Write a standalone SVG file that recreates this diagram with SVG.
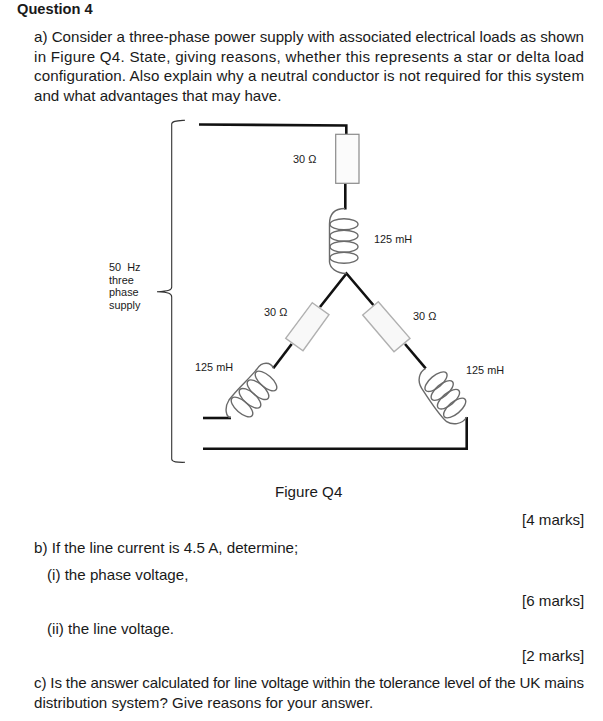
<svg xmlns="http://www.w3.org/2000/svg" width="603" height="721" viewBox="0 0 603 721">
<style>
text{font-family:"Liberation Sans",Arial,sans-serif;fill:#1a1a1a}
.b{font-size:15.15px}
.h{font-size:14.67px;font-weight:bold}
.l{font-size:10.9px}
.w{fill:none;stroke:#111;stroke-width:2.6}
.r{fill:#fbfbfb;stroke:#8a8a8a;stroke-width:1.2}
.q{fill:#f8f8f8;stroke:#b0b0b0;stroke-width:1.4}
.c{fill:none;stroke:#6a6a6a;stroke-width:1.4}
.br{fill:none;stroke:#333;stroke-width:1.1}
</style>
<rect width="603" height="721" fill="#fff"/>
<g id="text">
<text class="h" x="17" y="14">Question 4</text>
<text class="b" x="34" y="42" textLength="550" lengthAdjust="spacing">a) Consider a three-phase power supply with associated electrical loads as shown</text>
<text class="b" x="34" y="62" textLength="550" lengthAdjust="spacing">in Figure Q4. State, giving reasons, whether this represents a star or delta load</text>
<text class="b" x="34" y="81" textLength="550" lengthAdjust="spacing">configuration. Also explain why a neutral conductor is not required for this system</text>
<text class="b" x="34" y="101">and what advantages that may have.</text>
<text class="b" x="275" y="497">Figure Q4</text>
<text class="b" x="522" y="525">[4 marks]</text>
<text class="b" x="34" y="553">b) If the line current is 4.5 A, determine;</text>
<text class="b" x="47" y="580">(i) the phase voltage,</text>
<text class="b" x="522" y="606">[6 marks]</text>
<text class="b" x="47" y="634">(ii) the line voltage.</text>
<text class="b" x="522" y="661">[2 marks]</text>
<text class="b" x="34" y="688" textLength="550" lengthAdjust="spacing">c) Is the answer calculated for line voltage within the tolerance level of the UK mains</text>
<text class="b" x="34" y="708">distribution system? Give reasons for your answer.</text>
</g>
<g id="connectors">
<path class="w" d="M199 124.500L346.300 125.500V134"/>
<path class="w" d="M345.300 183.500V209.500"/>
<path class="w" d="M320 307L346.500 273.500L373.300 305"/>
<path class="w" d="M291.700 344L273.300 368.300"/>
<path class="w" d="M405 344L425.700 368.300"/>
<path class="w" d="M203 418H231"/>
<path class="w" d="M203 448.700H466.700V417"/>
</g>
<g id="supply-brace">
<path class="br" d="M185 120.300C177 120.800 171.700 120.800 171.700 124V287C171.700 290 169 291.200 157 291.700C169 292.200 171.700 293.500 171.700 297V459C171.700 462 177 462.500 185 462.300"/>
<text class="l" x="109" y="271" style="word-spacing:3px">50 Hz</text>
<text class="l" x="109" y="283.500">three</text>
<text class="l" x="109" y="296">phase</text>
<text class="l" x="109" y="309">supply</text>
</g>
<g id="load-top">
<rect class="r" x="335.700" y="134.300" width="23.300" height="49"/>
<ellipse class="c" cx="344" cy="224.300" rx="14" ry="5.500"/>
<ellipse class="c" cx="344" cy="235.700" rx="14" ry="5.500"/>
<ellipse class="c" cx="344" cy="246.700" rx="14" ry="5.500"/>
<ellipse class="c" cx="344" cy="257.700" rx="14" ry="5.500"/>
<path class="c" d="M345 208.500C335 208.500 329.500 214 329.500 224V262C330 268 336 273 346.500 273.500"/>
<text class="l" x="293" y="163">30 Ω</text>
<text class="l" x="374" y="243">125 mH</text>
</g>
<g id="load-left">
<polygon class="q" points="312.300,302.700 329,314.700 303,350.700 285.700,338.300"/>
<ellipse class="c" cx="266" cy="381" rx="13.300" ry="6" transform="rotate(41 266 381)"/>
<ellipse class="c" cx="258" cy="389.700" rx="13.300" ry="6" transform="rotate(41 258 389.700)"/>
<ellipse class="c" cx="250" cy="398.300" rx="13.300" ry="6" transform="rotate(41 250 398.300)"/>
<ellipse class="c" cx="242" cy="407" rx="13.300" ry="6" transform="rotate(41 242 407)"/>
<path class="c" d="M273.300 368.300C271 362 262 361 257 369C250 378 236 390 229 400C224 408 226 418 231 417.300"/>
<text class="l" x="264" y="316">30 Ω</text>
<text class="l" x="195" y="371">125 mH</text>
</g>
<g id="load-right">
<polygon class="q" points="378.300,301.700 410,338.300 394,351.700 362.700,315"/>
<ellipse class="c" cx="436" cy="381.700" rx="13.500" ry="6" transform="rotate(-40 436 381.700)"/>
<ellipse class="c" cx="442.200" cy="390.500" rx="13.500" ry="6" transform="rotate(-40 442.200 390.500)"/>
<ellipse class="c" cx="448.500" cy="399.200" rx="13.500" ry="6" transform="rotate(-40 448.500 399.200)"/>
<ellipse class="c" cx="454.700" cy="408" rx="13.500" ry="6" transform="rotate(-40 454.700 408)"/>
<path class="c" d="M425.700 368.300C419 372 417 381 421.700 388.300C428 398 438 414 446.700 421.700C452 425 462 425 466.700 417"/>
<text class="l" x="413" y="320">30 Ω</text>
<text class="l" x="466" y="374">125 mH</text>
</g>
</svg>
